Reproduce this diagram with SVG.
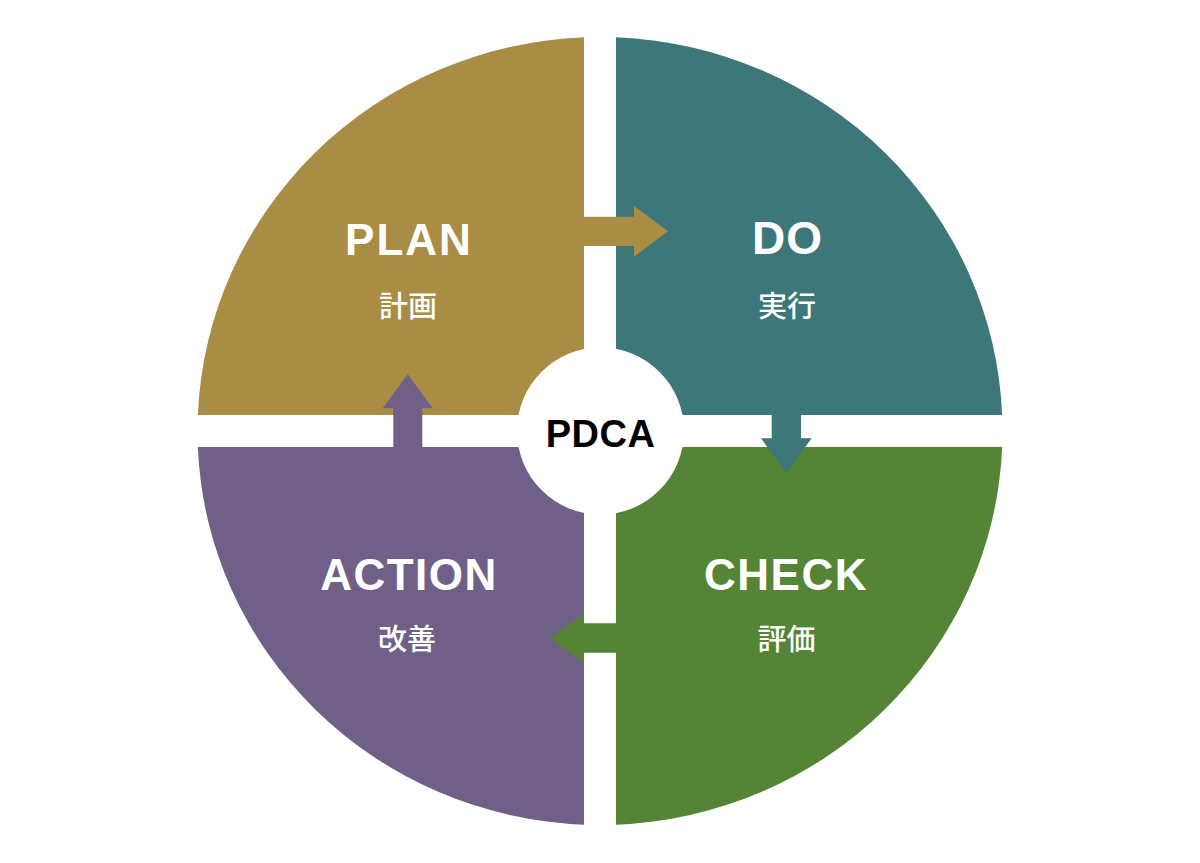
<svg xmlns="http://www.w3.org/2000/svg" width="1200" height="863" viewBox="0 0 1200 863">
<style>
.en{font-family:"Liberation Sans",Arial,"Noto Sans CJK JP",sans-serif;font-weight:bold;fill:#ffffff;text-anchor:middle}
.ja{font-family:"Noto Sans CJK JP","Noto Sans CJK SC",sans-serif;font-weight:500;fill:#ffffff;text-anchor:middle;font-size:29px}
.plan{fill:#AA8D45}
.do{fill:#3D7779}
.check{fill:#558436}
.action{fill:#706088}
</style>
<rect width="1200" height="863" fill="#ffffff"/>
<g id="plan">
<path class="plan" d="M584,415 H197.83 A402.5,394 0 0 1 584,37.31 Z"/>
<text class="en" x="409" y="255" font-size="44" letter-spacing="2">PLAN</text>
<text class="ja" x="408" y="317">計画</text>
</g>
<g id="do">
<path class="do" d="M616,415 V37.31 A402.5,394 0 0 1 1002.17,415 Z"/>
<text class="en" x="787.5" y="253.5" font-size="46" letter-spacing="1">DO</text>
<text class="ja" x="787" y="317">実行</text>
</g>
<g id="check">
<path class="check" d="M616,447 H1002.17 A402.5,394 0 0 1 616,824.69 Z"/>
<text class="en" x="786" y="590" font-size="44" letter-spacing="1.5">CHECK</text>
<text class="ja" x="786.5" y="650">評価</text>
</g>
<g id="action">
<path class="action" d="M584,447 V824.69 A402.5,394 0 0 1 197.83,447 Z"/>
<text class="en" x="409" y="590" font-size="44" letter-spacing="1.5">ACTION</text>
<text class="ja" x="407" y="650">改善</text>
</g>
<g id="connectors">
<path class="plan" d="M583,216.7 H634 V206 L668,231.3 L634,256.7 V246 H583 Z"/>
<path class="do" d="M771.7,414 V438.3 H761 L786.3,472.7 L811.7,438.3 H801 V414 Z"/>
<path class="check" d="M617,623.3 H584 V613.3 L550,638.3 L584,663.3 V652.7 H617 Z"/>
<path class="action" d="M393.3,448 V408.3 H382.7 L407.8,374.3 L432.7,408.3 H422.3 V448 Z"/>
</g>
<g id="pdca">
<circle cx="600.5" cy="431" r="83.5" fill="#ffffff"/>
<text x="600.5" y="447" font-family="'Liberation Sans',Arial,sans-serif" font-weight="bold" font-size="38" text-anchor="middle" letter-spacing="0.5" fill="#000000">PDCA</text>
</g>
</svg>
